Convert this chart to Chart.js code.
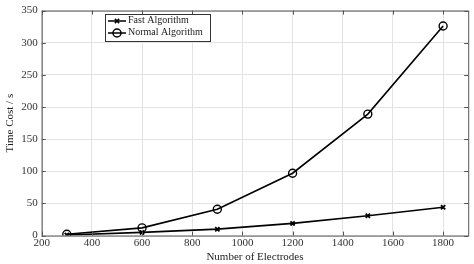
<!DOCTYPE html>
<html>
<head>
<meta charset="utf-8">
<script src="https://cdn.jsdelivr.net/npm/chart.js@4/dist/chart.umd.min.js"></script>
<style>
html,body{margin:0;padding:0;background:#fff;}
#wrap{width:474px;height:264px;position:relative;}
</style>
</head>
<body>
<div id="wrap"><canvas id="mainChart"></canvas></div>
<script>
"use strict";
// data
const electrodes=[300,600,900,1200,1500,1800];
const fastTime=[1,5,10,19,31,44];
const normalTime=[2,12,41,97,189,326];
const seriesNames=["Fast Algorithm","Normal Algorithm"];
const xTicks=[200,400,600,800,1000,1200,1400,1600,1800];

const serif="'Liberation Serif','Times New Roman',serif";

// box, inner ticks on top/right and the framed legend
const framePlugin={
    id:"frame",
    afterDraw(chart){
        const ctx=chart.ctx;
        const a=chart.chartArea;
        const xs=chart.scales.x,ys=chart.scales.y;
        ctx.save();
        ctx.strokeStyle="#555";
        ctx.lineWidth=1;
        ctx.strokeRect(a.left+0.5,a.top+0.5,a.right-a.left,a.bottom-a.top);
        ctx.beginPath();
        for(const t of xTicks){
            const px=Math.round(xs.getPixelForValue(t))+0.5;
            ctx.moveTo(px,a.top);ctx.lineTo(px,a.top+4);
            ctx.moveTo(px,a.bottom);ctx.lineTo(px,a.bottom-4);
        }
        for(const t of ys.ticks){
            const py=Math.round(ys.getPixelForValue(t.value))+0.5;
            ctx.moveTo(a.right,py);ctx.lineTo(a.right-4,py);
            ctx.moveTo(a.left,py);ctx.lineTo(a.left+4,py);
        }
        ctx.stroke();
        //legend
        const lx=105,ly=14,lw=105,lh=27;
        ctx.fillStyle="#fff";
        ctx.fillRect(lx,ly,lw,lh);
        ctx.strokeStyle="#333";
        ctx.strokeRect(lx+0.5,ly+0.5,lw,lh);
        ctx.font="10px "+serif;
        ctx.textBaseline="middle";
        chart.data.datasets.forEach((ds,i)=>{
            const cy=ly+7+i*12;
            ctx.strokeStyle="#000";
            ctx.lineWidth=1.5;
            ctx.beginPath();
            ctx.moveTo(lx+3,cy);ctx.lineTo(lx+21,cy);
            ctx.stroke();
            ctx.fillStyle="rgba(0,0,0,0)";
            Chart.helpers.drawPoint(ctx,{pointStyle:ds.pointStyle,radius:ds.pointRadius,borderWidth:1.5},lx+12,cy);
            ctx.fillStyle="#222";
            ctx.fillText(ds.label,lx+23,cy-1);
        });
        ctx.restore();
    }
};

const data={
    datasets:[{
        label:seriesNames[0],
        data:electrodes.map((x,i)=>({x,y:fastTime[i]})),
        borderColor:"#000",
        backgroundColor:"#000",
        borderWidth:1.6,
        pointStyle:"crossRot",
        pointRadius:3,
        pointBorderWidth:1.8,
        pointBorderColor:"#000",
        tension:0
    },{
        label:seriesNames[1],
        data:electrodes.map((x,i)=>({x,y:normalTime[i]})),
        borderColor:"#000",
        backgroundColor:"transparent",
        borderWidth:1.6,
        pointStyle:"circle",
        pointRadius:4,
        pointBorderWidth:1.4,
        pointBorderColor:"#000",
        pointBackgroundColor:"transparent",
        tension:0
    }]
};

const options={
    responsive:true,
    maintainAspectRatio:false,
    animation:false,
    layout:{padding:{left:4,right:5,top:3,bottom:0}},
    scales:{
        x:{
            type:"linear",
            min:200,max:1900,
            afterBuildTicks(axis){axis.ticks=xTicks.map(v=>({value:v}));},
            grid:{color:"#e3e3e3",drawTicks:false},
            border:{display:false},
            ticks:{color:"#333",font:{family:serif,size:11},padding:1,maxRotation:0,callback:v=>String(v)},
            title:{display:true,text:"Number of Electrodes",color:"#222",font:{family:serif,size:11},padding:{top:0,bottom:0}}
        },
        y:{
            min:0,max:350,
            ticks:{stepSize:50,color:"#333",font:{family:serif,size:11},padding:4,callback:v=>String(v)},
            grid:{color:"#e3e3e3",drawTicks:false},
            border:{display:false},
            title:{display:true,text:"Time Cost / s",color:"#222",font:{family:serif,size:11},padding:{top:0,bottom:0}}
        }
    },
    plugins:{
        legend:{display:false},
        tooltip:{enabled:false}
    }
};

new Chart(document.getElementById("mainChart"),{type:"line",data,options,plugins:[framePlugin]});
</script>
</body>
</html>
